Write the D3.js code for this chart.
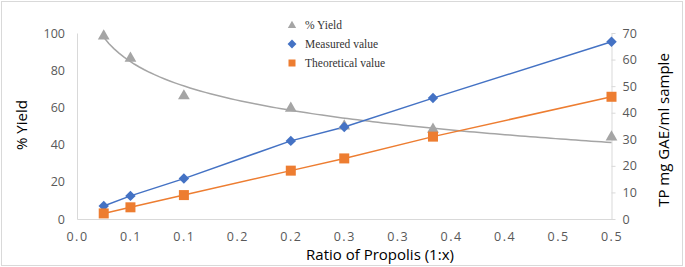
<!DOCTYPE html>
<html><head><meta charset="utf-8">
<script src="https://cdn.jsdelivr.net/npm/d3@7"></script>
<style>
body{margin:0;background:#fff;}
svg{display:block;}
</style></head>
<body>
<svg id="chart" width="685" height="267"></svg>
<script>
const ratio = [0.025, 0.05, 0.1, 0.2, 0.25, 0.333, 0.5];
const yieldVals = [98.9, 86.9, 66.7, 60.0, 50.5, 48.8, 44.6];
const measured = [4.9, 8.7, 15.2, 29.4, 34.6, 45.5, 66.7];
const theoretical = [2.1, 4.4, 9.0, 18.2, 22.8, 31.0, 46.0];
const xTicks = [0, 0.05, 0.1, 0.15, 0.2, 0.25, 0.3, 0.35, 0.4, 0.45, 0.5];
const xTickLabels = ["0.0","0.1","0.1","0.2","0.2","0.3","0.3","0.4","0.4","0.5","0.5"];
const yLeftTicks = [0, 20, 40, 60, 80, 100];
const yRightTicks = [0, 10, 20, 30, 40, 50, 60, 70];
const seriesNames = ["% Yield", "Measured value", "Theoretical value"];
const colors = {yield:"#A5A5A5", measured:"#4472C4", theo:"#ED7D31"};

const svg = d3.select("#chart");
const L = 77, R = 611.5, T = 33, B = 219;

// outer frame
svg.append("rect").attr("x",1.5).attr("y",1.5).attr("width",681).attr("height",264)
  .attr("fill","#fff").attr("stroke","#d9d9d9").attr("stroke-width",1);

const x = d3.scaleLinear().domain([0,0.5]).range([L,R]);
const yL = d3.scaleLinear().domain([0,100]).range([B,T]);
const yR = d3.scaleLinear().domain([0,70]).range([B,T]);

const tickFont = "'Open Sans', sans-serif";
const tickColor = "#595959";

// left axis
const axL = svg.append("g").attr("transform",`translate(${L},0)`)
  .call(d3.axisLeft(yL).tickValues(yLeftTicks).tickSize(0).tickPadding(12));
axL.select(".domain").attr("stroke","#d9d9d9");
axL.selectAll("text").attr("font-family",tickFont).attr("font-size",12.5).attr("fill",tickColor);

// right axis
const axR = svg.append("g").attr("transform",`translate(${R},0)`)
  .call(d3.axisRight(yR).tickValues(yRightTicks).tickSize(4).tickPadding(7).tickSizeOuter(0));
axR.select(".domain").attr("stroke","#d9d9d9");
axR.selectAll("line").attr("stroke","#d9d9d9");
axR.selectAll("text").attr("font-family",tickFont).attr("font-size",12.5).attr("fill",tickColor);

// bottom axis
const axB = svg.append("g").attr("transform",`translate(0,${B})`)
  .call(d3.axisBottom(x).tickValues(xTicks).tickFormat((d,i)=>xTickLabels[i]).tickSize(0).tickPadding(13));
axB.select(".domain").attr("stroke","#d9d9d9");
axB.selectAll("text").attr("font-family",tickFont).attr("font-size",12.5).attr("fill",tickColor)
  .attr("letter-spacing","1.5px");

// axis titles
svg.append("text").attr("transform",`translate(27,125) rotate(-90)`)
  .attr("text-anchor","middle").attr("font-family",tickFont).attr("font-size",15).attr("fill","#000")
  .text("% Yield");
svg.append("text").attr("transform",`translate(669,130) rotate(-90)`)
  .attr("text-anchor","middle").attr("font-family",tickFont).attr("font-size",15).attr("fill","#000")
  .text("TP mg GAE/ml sample");
svg.append("text").attr("x",380).attr("y",260)
  .attr("text-anchor","middle").attr("font-family",tickFont).attr("font-size",15).attr("fill","#000")
  .text("Ratio of Propolis (1:x)");

// logarithmic trend line of yield (least squares fit on ln x)
const lx = ratio.map(Math.log);
const mx = d3.mean(lx), my = d3.mean(yieldVals);
const b = d3.sum(lx.map((v,i)=>(v-mx)*(yieldVals[i]-my))) / d3.sum(lx.map(v=>(v-mx)*(v-mx)));
const a = my - b*mx;
const xs = d3.range(0,101).map(i => ratio[0] + (ratio[ratio.length-1]-ratio[0])*i/100);
svg.append("path").datum(xs)
  .attr("fill","none").attr("stroke",colors.yield).attr("stroke-width",1.5)
  .attr("d", d3.line().x(d=>x(d)).y(d=>yL(a + b*Math.log(d))));

// measured / theoretical lines
const lineR = d3.line().x((d,i)=>x(ratio[i])).y(d=>yR(d));
svg.append("path").datum(measured).attr("fill","none").attr("stroke",colors.measured).attr("stroke-width",1.5).attr("d",lineR);
svg.append("path").datum(theoretical).attr("fill","none").attr("stroke",colors.theo).attr("stroke-width",1.5).attr("d",lineR);

// yield markers (triangles)
const tri = d3.symbol().type(d3.symbolTriangle).size(60);
svg.append("g").selectAll("path").data(yieldVals).join("path")
  .attr("d",tri).attr("fill",colors.yield)
  .attr("transform",(d,i)=>`translate(${x(ratio[i])},${yL(d)+1})`);

// measured markers (diamonds)
const dia = d3.symbol().type(d3.symbolDiamond2).size(70);
svg.append("g").selectAll("path").data(measured).join("path")
  .attr("d",dia).attr("fill",colors.measured)
  .attr("transform",(d,i)=>`translate(${x(ratio[i])},${yR(d)})`);

// theoretical markers (squares)
svg.append("g").selectAll("rect").data(theoretical).join("rect")
  .attr("width",10).attr("height",10).attr("fill",colors.theo)
  .attr("x",(d,i)=>x(ratio[i])-5).attr("y",d=>yR(d)-5);

// legend
const lg = svg.append("g").attr("font-family","'Liberation Serif', 'Times New Roman', serif").attr("font-size",11.5).attr("fill","#333");
const legY = [25, 44, 63];
lg.append("path").attr("d",d3.symbol().type(d3.symbolTriangle).size(30)).attr("fill",colors.yield)
  .attr("transform",`translate(292,${legY[0]+0.5})`);
lg.append("path").attr("d",d3.symbol().type(d3.symbolDiamond2).size(50)).attr("fill",colors.measured)
  .attr("transform",`translate(292,${legY[1]})`);
lg.append("rect").attr("x",288.5).attr("y",legY[2]-3.5).attr("width",7).attr("height",7).attr("fill",colors.theo);
seriesNames.forEach((n,i)=>{
  lg.append("text").attr("x",305).attr("y",legY[i]+4).text(n);
});
</script>
</body></html>
